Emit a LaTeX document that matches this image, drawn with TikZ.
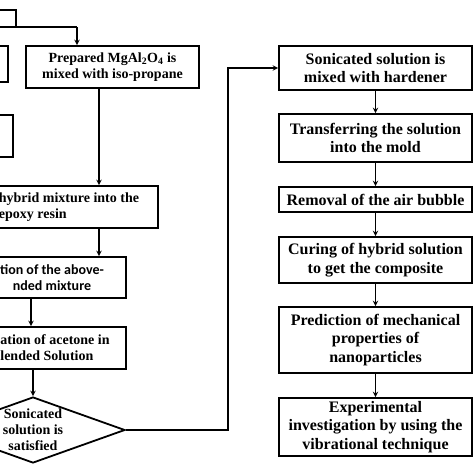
\documentclass[tikz,border=0pt]{standalone}
\usepackage{fontspec}
\setmainfont{Liberation Serif}
\newfontfamily\calfont{Carlito}
\usetikzlibrary{shapes.geometric}
\begin{document}
\begin{tikzpicture}[x=1pt, y=-1pt,
	every node/.style={ text=black, inner sep=0pt, font=\fontsize{14}{16}\selectfont\bfseries },
	stepbox/.style={ draw, rectangle, line width=1.8pt, align=center },
	bigbox/.style={ stepbox, minimum width=193, font=\fontsize{16}{18.5}\selectfont\bfseries },
	decide/.style={ draw, diamond, aspect=2.8, line width=1.8pt, align=center },
	flow/.style={ -stealth, line width=1.4pt }]
		\useasboundingbox (0,0) rectangle (474,474);
		\clip (0,0) rectangle (474,474);
		% left column
		\node[stepbox, minimum width=100, minimum height=36] (L1) at (-42,64) {};
		\node[stepbox, minimum width=100, minimum height=42] (L2) at (-37,136) {};
		\node[stepbox, minimum width=173, minimum height=42] (mg) at (112.5,67) {Prepared MgAl\textsubscript{2}O\textsubscript{4} is\\mixed with iso-propane};
		\node[stepbox, align=left, minimum width=178, minimum height=42] (L3) at (69,207) {hybrid mixture into the\\epoxy resin};
		\node[stepbox, minimum width=148, minimum height=41, font=\fontsize{14}{16}\selectfont\calfont\bfseries] (L4) at (52,277.5) {tion of the above-\\nded mixture};
		\node[stepbox, align=left, minimum width=142, minimum height=42] (L5) at (55,348) {ation of acetone in\\lended Solution};
		\node[decide, minimum width=184, minimum height=66] (dia) at (33,430) {Sonicated\\solution is\\satisfied};
		% right column
		\node[bigbox, minimum height=44] (R1) at (375.5,68) {Sonicated solution is\\mixed with hardener};
		\node[bigbox, minimum height=48] (R2) at (375.5,138) {Transferring the solution\\into the mold};
		\node[bigbox, minimum height=25] (R3) at (375.5,199.5) {Removal of the air bubble};
		\node[bigbox, minimum height=46] (R4) at (375.5,260) {Curing of hybrid solution\\to get the composite};
		\node[bigbox, minimum height=66] (R5) at (375.5,340) {Prediction of mechanical\\properties of\\nanoparticles};
		\node[bigbox, minimum height=58] (R6) at (375.5,427) {Experimental\\investigation by using the\\vibrational technique};
		% connectors
		\coordinate (a0) at (-5,10);
		\coordinate (a1) at (16,27);
		\coordinate (a2) at (-5,27);
		\coordinate (split) at (77,27);
		\coordinate (down) at (99,0);
		\coordinate (low) at (31,0);
		\coordinate (turn) at (228,68);
		\draw[line width=1.4pt] (a0) -| (a1);
		\draw[line width=1.4pt] (a2) -- (split);
		\draw[flow] (split) -- (split |- mg.north);
		\draw[flow] (down |- mg.south) -- (down |- L3.north);
		\draw[flow] (down |- L3.south) -- (down |- L4.north);
		\draw[flow] (low |- L4.south) -- (low |- L5.north);
		\draw[flow] (dia.north |- L5.south) -- (dia.north);
		\draw[flow] (dia.east) -| (turn) -- (R1.west);
		\draw[flow] (R1) -- (R2);
		\draw[flow] (R2) -- (R3);
		\draw[flow] (R3) -- (R4);
		\draw[flow] (R4) -- (R5);
		\draw[flow] (R5) -- (R6);
	\end{tikzpicture}
\end{document}
